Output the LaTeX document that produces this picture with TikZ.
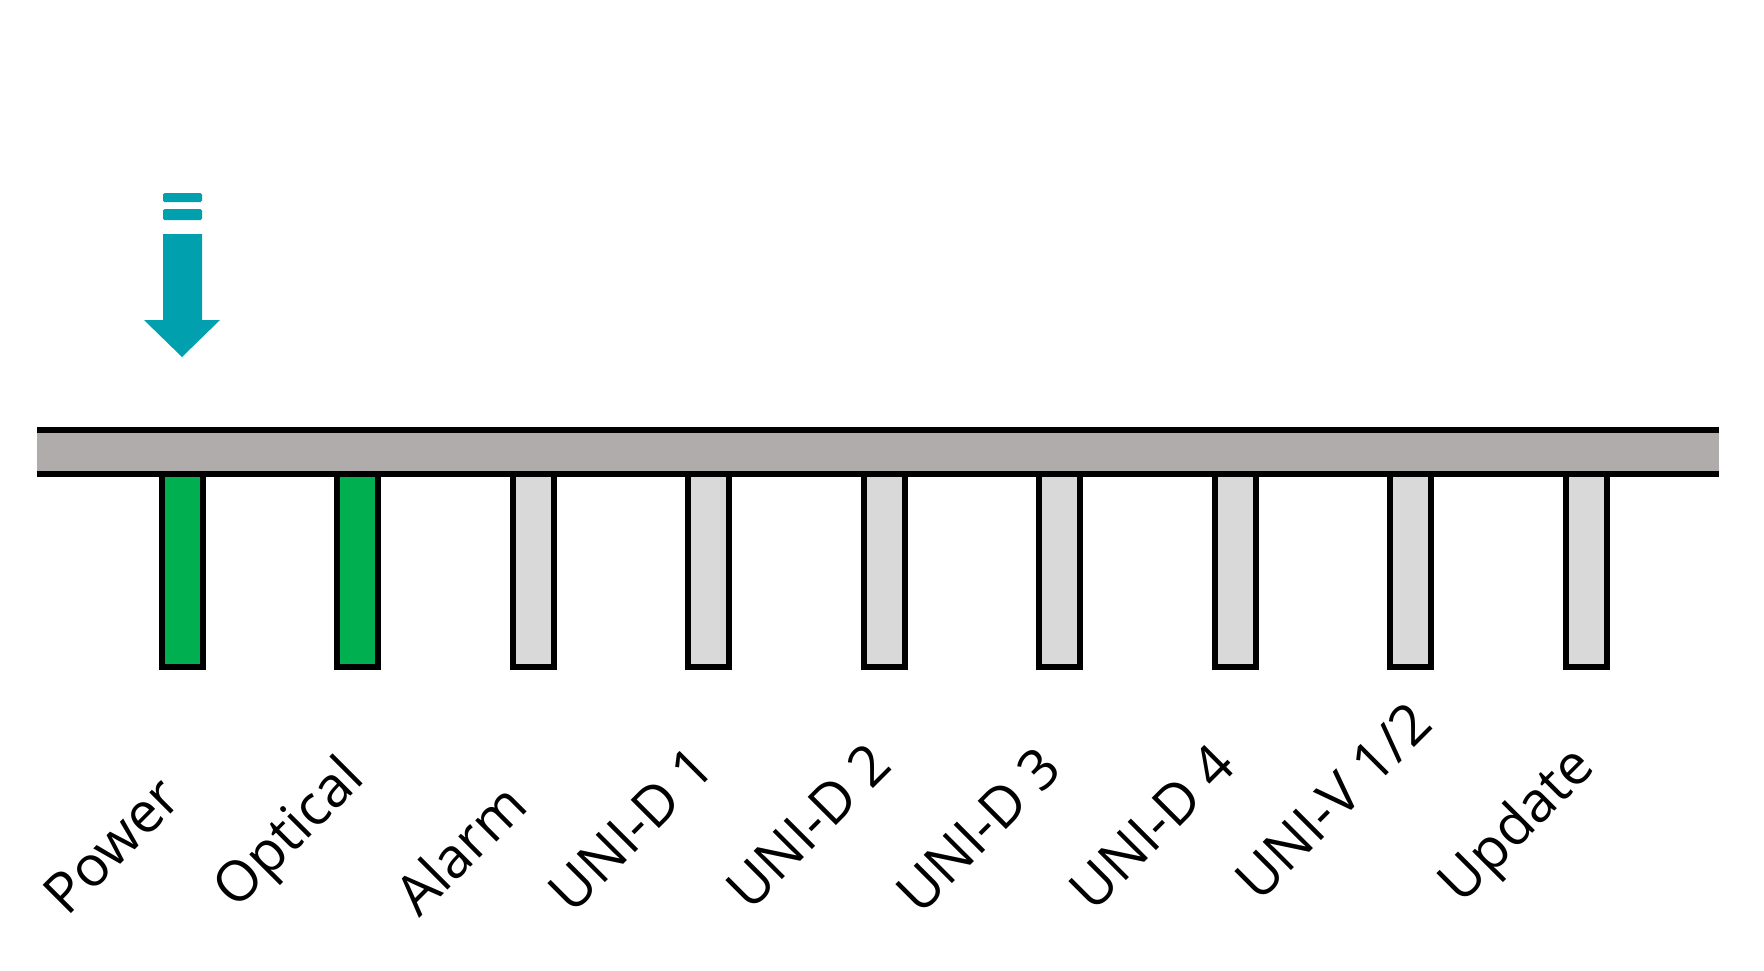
\documentclass[tikz,border=0pt]{standalone}
\usepackage{fontspec}
\setmainfont{Open Sans}
\definecolor{bargray}{RGB}{176,172,171}
\definecolor{ledgray}{RGB}{217,217,217}
\definecolor{ledgreen}{RGB}{0,176,80}
\definecolor{teal}{RGB}{0,160,174}
\begin{document}
\begin{tikzpicture}[x=1pt,y=-1pt,
  barbox/.style={fill=bargray,draw=none,inner sep=0pt,minimum width=1682pt,minimum height=44pt},
  barline/.style={line width=6.5pt,black},
  ledbox/.style={draw=black,line width=6pt,inner sep=0pt,minimum width=41pt,minimum height=193pt},
  ledon/.style={ledbox,fill=ledgreen},
  ledoff/.style={ledbox,fill=ledgray},
  lbl/.style={rotate=45,inner sep=0pt,font=\fontsize{56}{60}\selectfont},
  arrowfill/.style={fill=teal,draw=none}]
\useasboundingbox[fill=white] (0,0) rectangle (1764,970);
% bar
\node[barbox] (bar) at (878,452) {};
\draw[barline] (bar.north west) -- (bar.north east);
\draw[barline] (bar.south west) -- (bar.south east);
% LEDs
\node[ledon]  (led0) at (182,570.5) {};
\node[ledon]  (led1) at (357.5,570.5) {};
\node[ledoff] (led2) at (533,570.5) {};
\node[ledoff] (led3) at (708.5,570.5) {};
\node[ledoff] (led4) at (884,570.5) {};
\node[ledoff] (led5) at (1059.5,570.5) {};
\node[ledoff] (led6) at (1235,570.5) {};
\node[ledoff] (led7) at (1410.5,570.5) {};
\node[ledoff] (led8) at (1586,570.5) {};
% labels
\node[lbl] (l0) at (112,845) {Power};
\node[lbl] (l1) at (291,835) {Optical};
\node[lbl] (l2) at (460,849) {Alarm};
\node[lbl] (l3) at (631,829) {UNI-D 1};
\node[lbl] (l4) at (808,826) {UNI-D 2};
\node[lbl] (l5) at (978,830) {UNI-D 3};
\node[lbl] (l6) at (1152,827) {UNI-D 4};
\node[lbl] (l7) at (1333,801) {UNI-V 1/2};
\node[lbl] (l8) at (1519,827) {Update};
% arrow
\fill[arrowfill,rounded corners=1.5pt] (163,193) rectangle (202,202);
\fill[arrowfill,rounded corners=1.5pt] (163,209) rectangle (202,220);
\fill[arrowfill] (163,234) -- (202,234) -- (202,320) -- (220,320) -- (182,357) -- (144,320) -- (163,320) -- cycle;
\end{tikzpicture}
\end{document}
